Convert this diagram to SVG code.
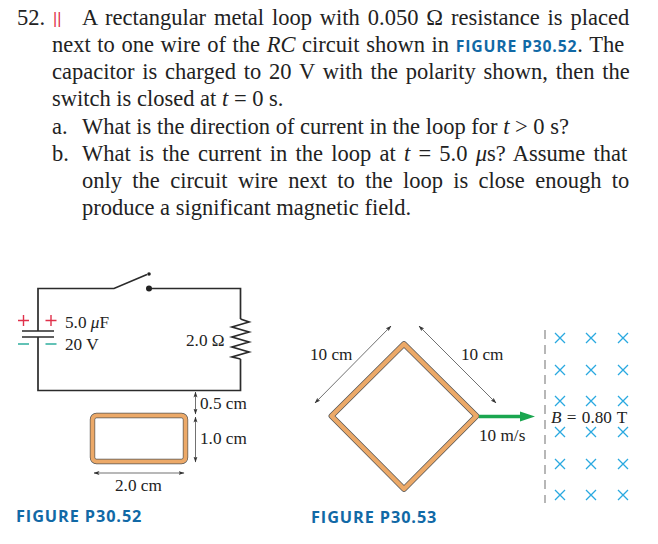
<svg xmlns="http://www.w3.org/2000/svg" width="658" height="544" viewBox="0 0 658 544">
<style>
text{font-family:"Liberation Serif",serif;fill:#222}
.b{font-size:22.5px}
.l{font-size:17.2px}
.i{font-style:italic}
.fig{font-family:"Open Sans","Noto Sans",sans-serif;font-weight:700;font-size:16.3px;fill:#1169a6;letter-spacing:.9px}
.w{fill:none;stroke:#2b2b2b;stroke-width:1.7}
.d{fill:none;stroke:#333;stroke-width:.7;marker-start:url(#a);marker-end:url(#a)}
.x{stroke:#29a9e0;stroke-width:1.3;fill:none}
.red{stroke:#e0304a;stroke-width:1.4;fill:none}
.teal{stroke:#2fae9f;stroke-width:1.4;fill:none}
</style>
<defs>
<marker id="a" viewBox="0 0 6 5" refX="5.500" refY="2.500" markerWidth="6" markerHeight="5" orient="auto-start-reverse" markerUnits="userSpaceOnUse"><path d="M0 0.500 6 2.500 0 4.500 1.400 2.500z" fill="#333"/></marker>
<path id="xm" d="M-5-5 5 5M-5 5 5-5" class="x"/>
</defs>
<rect width="658" height="544" fill="#fff"/>
<g id="problem-text">
<text class="b" x="17" y="25">52.</text>
<text x="53" y="24" style="font-family:'Liberation Sans',sans-serif;font-size:16px;fill:#e0304a">||</text>
<text class="b" x="82" y="25" word-spacing="2.3">A rectangular metal loop with 0.050 Ω resistance is placed</text>
<text class="b" x="52" y="52" word-spacing="1">next to one wire of the <tspan class="i">RC</tspan> circuit shown in <tspan class="fig" style="font-size:15.800px;letter-spacing:.8px" word-spacing="0">FIGURE P30.52</tspan>. The</text>
<text class="b" x="52" y="79" word-spacing="2.2">capacitor is charged to 20 V with the polarity shown, then the</text>
<text class="b" x="52" y="106">switch is closed at <tspan class="i">t</tspan> = 0 s.</text>
<text class="b" x="52" y="134">a.</text>
<text class="b" x="82" y="134">What is the direction of current in the loop for <tspan class="i">t</tspan> &gt; 0 s?</text>
<text class="b" x="52" y="161">b.</text>
<text class="b" x="82" y="161" word-spacing="2.6">What is the current in the loop at <tspan class="i">t</tspan> = 5.0 <tspan class="i">μ</tspan>s? Assume that</text>
<text class="b" x="82" y="188" word-spacing="4.7">only the circuit wire next to the loop is close enough to</text>
<text class="b" x="82" y="215">produce a significant magnetic field.</text>
</g>
<g id="connectors">
<path class="w" d="M38 331V288.500H114L147 274.500M149 288.500H240.500V319M240.500 359V390.500H38V337"/>
<path class="d" d="M195.500 392V414"/>
<path class="d" d="M195.500 417V462"/>
<path class="d" d="M94 473H184"/>
<path class="d" d="M315 403 391 326"/>
<path class="d" d="M419 326 496 403"/>
</g>
<g id="switch"><circle cx="149" cy="274" r="1.800" fill="#222"/><circle cx="149" cy="288.500" r="3" fill="#222"/></g>
<g id="capacitor">
<path class="w" d="M22 331H54M22 337H54"/>
<path class="red" d="M18 320.500H29M23.500 315V326M45.500 320.500H56.500M51 315V326"/>
<path class="teal" d="M18 344H29M45.500 344H56.500"/>
<text class="l" x="65" y="328">5.0 <tspan class="i">μ</tspan>F</text>
<text class="l" x="65" y="350">20 V</text>
</g>
<g id="resistor">
<path class="w" d="M240.500 319 249 322 232 327 249 332 232 337 249 342 232 347 249 352 232 357 240.500 359"/>
<text class="l" x="186" y="346">2.0 Ω</text>
</g>
<g id="rect-loop">
<rect x="92.500" y="415.500" width="93" height="46" rx="4" fill="none" stroke="#555" stroke-width="5.400"/>
<rect x="92.500" y="415.500" width="93" height="46" rx="4" fill="none" stroke="#eca968" stroke-width="4"/>
<text class="l" x="200" y="409">0.5 cm</text>
<text class="l" x="200" y="444">1.0 cm</text>
<text class="l" x="115" y="491">2.0 cm</text>
</g>
<text class="fig" x="16" y="521.500">FIGURE P30.52</text>
<g id="diamond-loop">
<path d="M404 344 476.500 416 404 489 331.500 416Z" fill="none" stroke="#555" stroke-width="5.800" stroke-linejoin="round"/>
<path d="M404 344 476.500 416 404 489 331.500 416Z" fill="none" stroke="#eca968" stroke-width="4.400" stroke-linejoin="round"/>
<text class="l" x="310" y="360">10 cm</text>
<text class="l" x="461" y="360">10 cm</text>
</g>
<g id="velocity">
<path d="M479 416.500H522" stroke="#1aa64f" stroke-width="3.400"/>
<path d="M520 411.500 535 416.500 520 421.500z" fill="#1aa64f"/>
<text class="l" x="479" y="441">10 m/s</text>
</g>
<g id="field">
<path d="M545 330V503" stroke="#999" stroke-width="1.400" stroke-dasharray="9 6" fill="none"/>
<use href="#xm" x="560" y="338"/><use href="#xm" x="591" y="338"/><use href="#xm" x="623" y="338"/>
<use href="#xm" x="560" y="370"/><use href="#xm" x="591" y="370"/><use href="#xm" x="623" y="370"/>
<use href="#xm" x="560" y="401"/><use href="#xm" x="591" y="401"/><use href="#xm" x="623" y="401"/>
<use href="#xm" x="560" y="432"/><use href="#xm" x="591" y="432"/><use href="#xm" x="623" y="432"/>
<use href="#xm" x="560" y="464"/><use href="#xm" x="591" y="464"/><use href="#xm" x="623" y="464"/>
<use href="#xm" x="560" y="495"/><use href="#xm" x="591" y="495"/><use href="#xm" x="623" y="495"/>
<text class="l" x="551" y="423" word-spacing="1"><tspan class="i">B</tspan> = 0.80 T</text>
</g>
<text class="fig" x="311" y="522.500">FIGURE P30.53</text>
</svg>
